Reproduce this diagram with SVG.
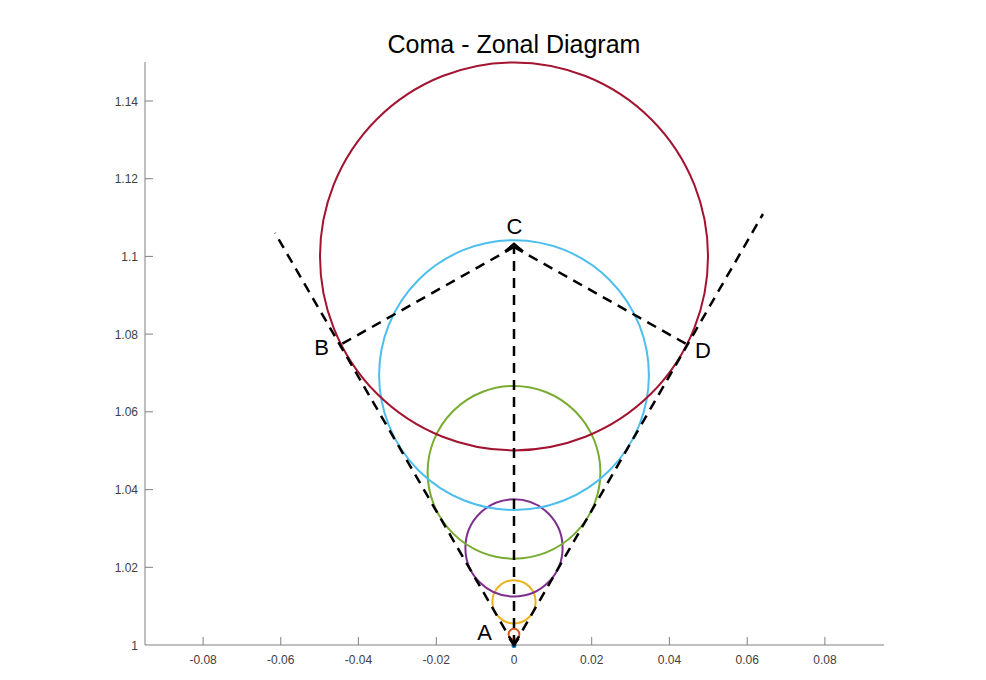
<svg xmlns="http://www.w3.org/2000/svg" width="986" height="680" viewBox="0 0 986 680">
<style>
.ax{stroke:#808080;stroke-width:1;fill:none}
.tk{font-family:"Liberation Sans",Arial,sans-serif;font-size:12px;fill:#404040}
.xt{text-anchor:middle}
.yt{text-anchor:end}
.c{fill:none;stroke-width:2}
.d{fill:none;stroke:#000;stroke-width:2.5;stroke-dasharray:10 7}
.lbl{font-family:"Liberation Sans",Arial,sans-serif;font-size:22px;fill:#000;text-anchor:middle}
</style>
<rect width="986" height="680" fill="#fff"/>
<text x="514" y="53" font-family="Liberation Sans,Arial,sans-serif" font-size="25" text-anchor="middle" fill="#000">Coma - Zonal Diagram</text>
<g id="axes">
<path class="ax" d="M145,62V645H884"/>
<path class="ax" d="M203.1,645v-8M280.8,645v-8M358.4,645v-8M436.3,645v-8M514,645v-8M591.7,645v-8M669.4,645v-8M747.2,645v-8M824.9,645v-8"/>
<path class="ax" d="M145,567.3h8M145,489.6h8M145,411.8h8M145,334.1h8M145,256.4h8M145,178.7h8M145,101h8"/>
<g class="tk xt">
<text x="203.1" y="664">-0.08</text><text x="280.8" y="664">-0.06</text><text x="358.4" y="664">-0.04</text><text x="436.3" y="664">-0.02</text><text x="514" y="664">0</text><text x="591.7" y="664">0.02</text><text x="669.4" y="664">0.04</text><text x="747.2" y="664">0.06</text><text x="824.9" y="664">0.08</text>
</g>
<g class="tk yt">
<text x="138" y="649.5">1</text><text x="138" y="571.8">1.02</text><text x="138" y="494.1">1.04</text><text x="138" y="416.3">1.06</text><text x="138" y="338.6">1.08</text><text x="138" y="260.9">1.1</text><text x="138" y="183.2">1.12</text><text x="138" y="105.5">1.14</text>
</g>
</g>
<g id="circles">
<circle id="h0" class="c" cx="514" cy="645.5" r="1.5" stroke="#0072BD"/>
<circle id="h1" class="c" cx="514" cy="634.2" r="5.4" stroke="#D95319"/>
<circle id="h2" class="c" cx="514" cy="601.8" r="21.6" stroke="#EDB120"/>
<circle id="h3" class="c" cx="514" cy="547.9" r="48.6" stroke="#7E2F8E"/>
<circle id="h4" class="c" cx="514" cy="472.3" r="86.4" stroke="#77AC30"/>
<circle id="h5" class="c" cx="514" cy="375.1" r="134.9" stroke="#4DBEEE"/>
<circle id="h6" class="c" cx="514" cy="256.4" r="194" stroke="#A2142F"/>
</g>
<g id="connectors">
<line class="d" x1="514" y1="645" x2="275" y2="233"/>
<line class="d" x1="514" y1="645" x2="763" y2="214"/>
<line class="d" x1="514" y1="645" x2="514" y2="246"/>
<line class="d" x1="514" y1="247" x2="340" y2="345"/>
<line class="d" x1="514" y1="247" x2="688" y2="345"/>
<polyline points="505,251.5 514,244 523,251.5" fill="none" stroke="#000" stroke-width="2.5"/>
<polyline points="509.5,638.5 514,645 518.5,638.5" fill="none" stroke="#000" stroke-width="2.5"/>
</g>
<g id="labels">
<text class="lbl" x="484.5" y="640">A</text>
<text class="lbl" x="321.5" y="355">B</text>
<text class="lbl" x="514.5" y="234">C</text>
<text class="lbl" x="703" y="358">D</text>
</g>
</svg>
